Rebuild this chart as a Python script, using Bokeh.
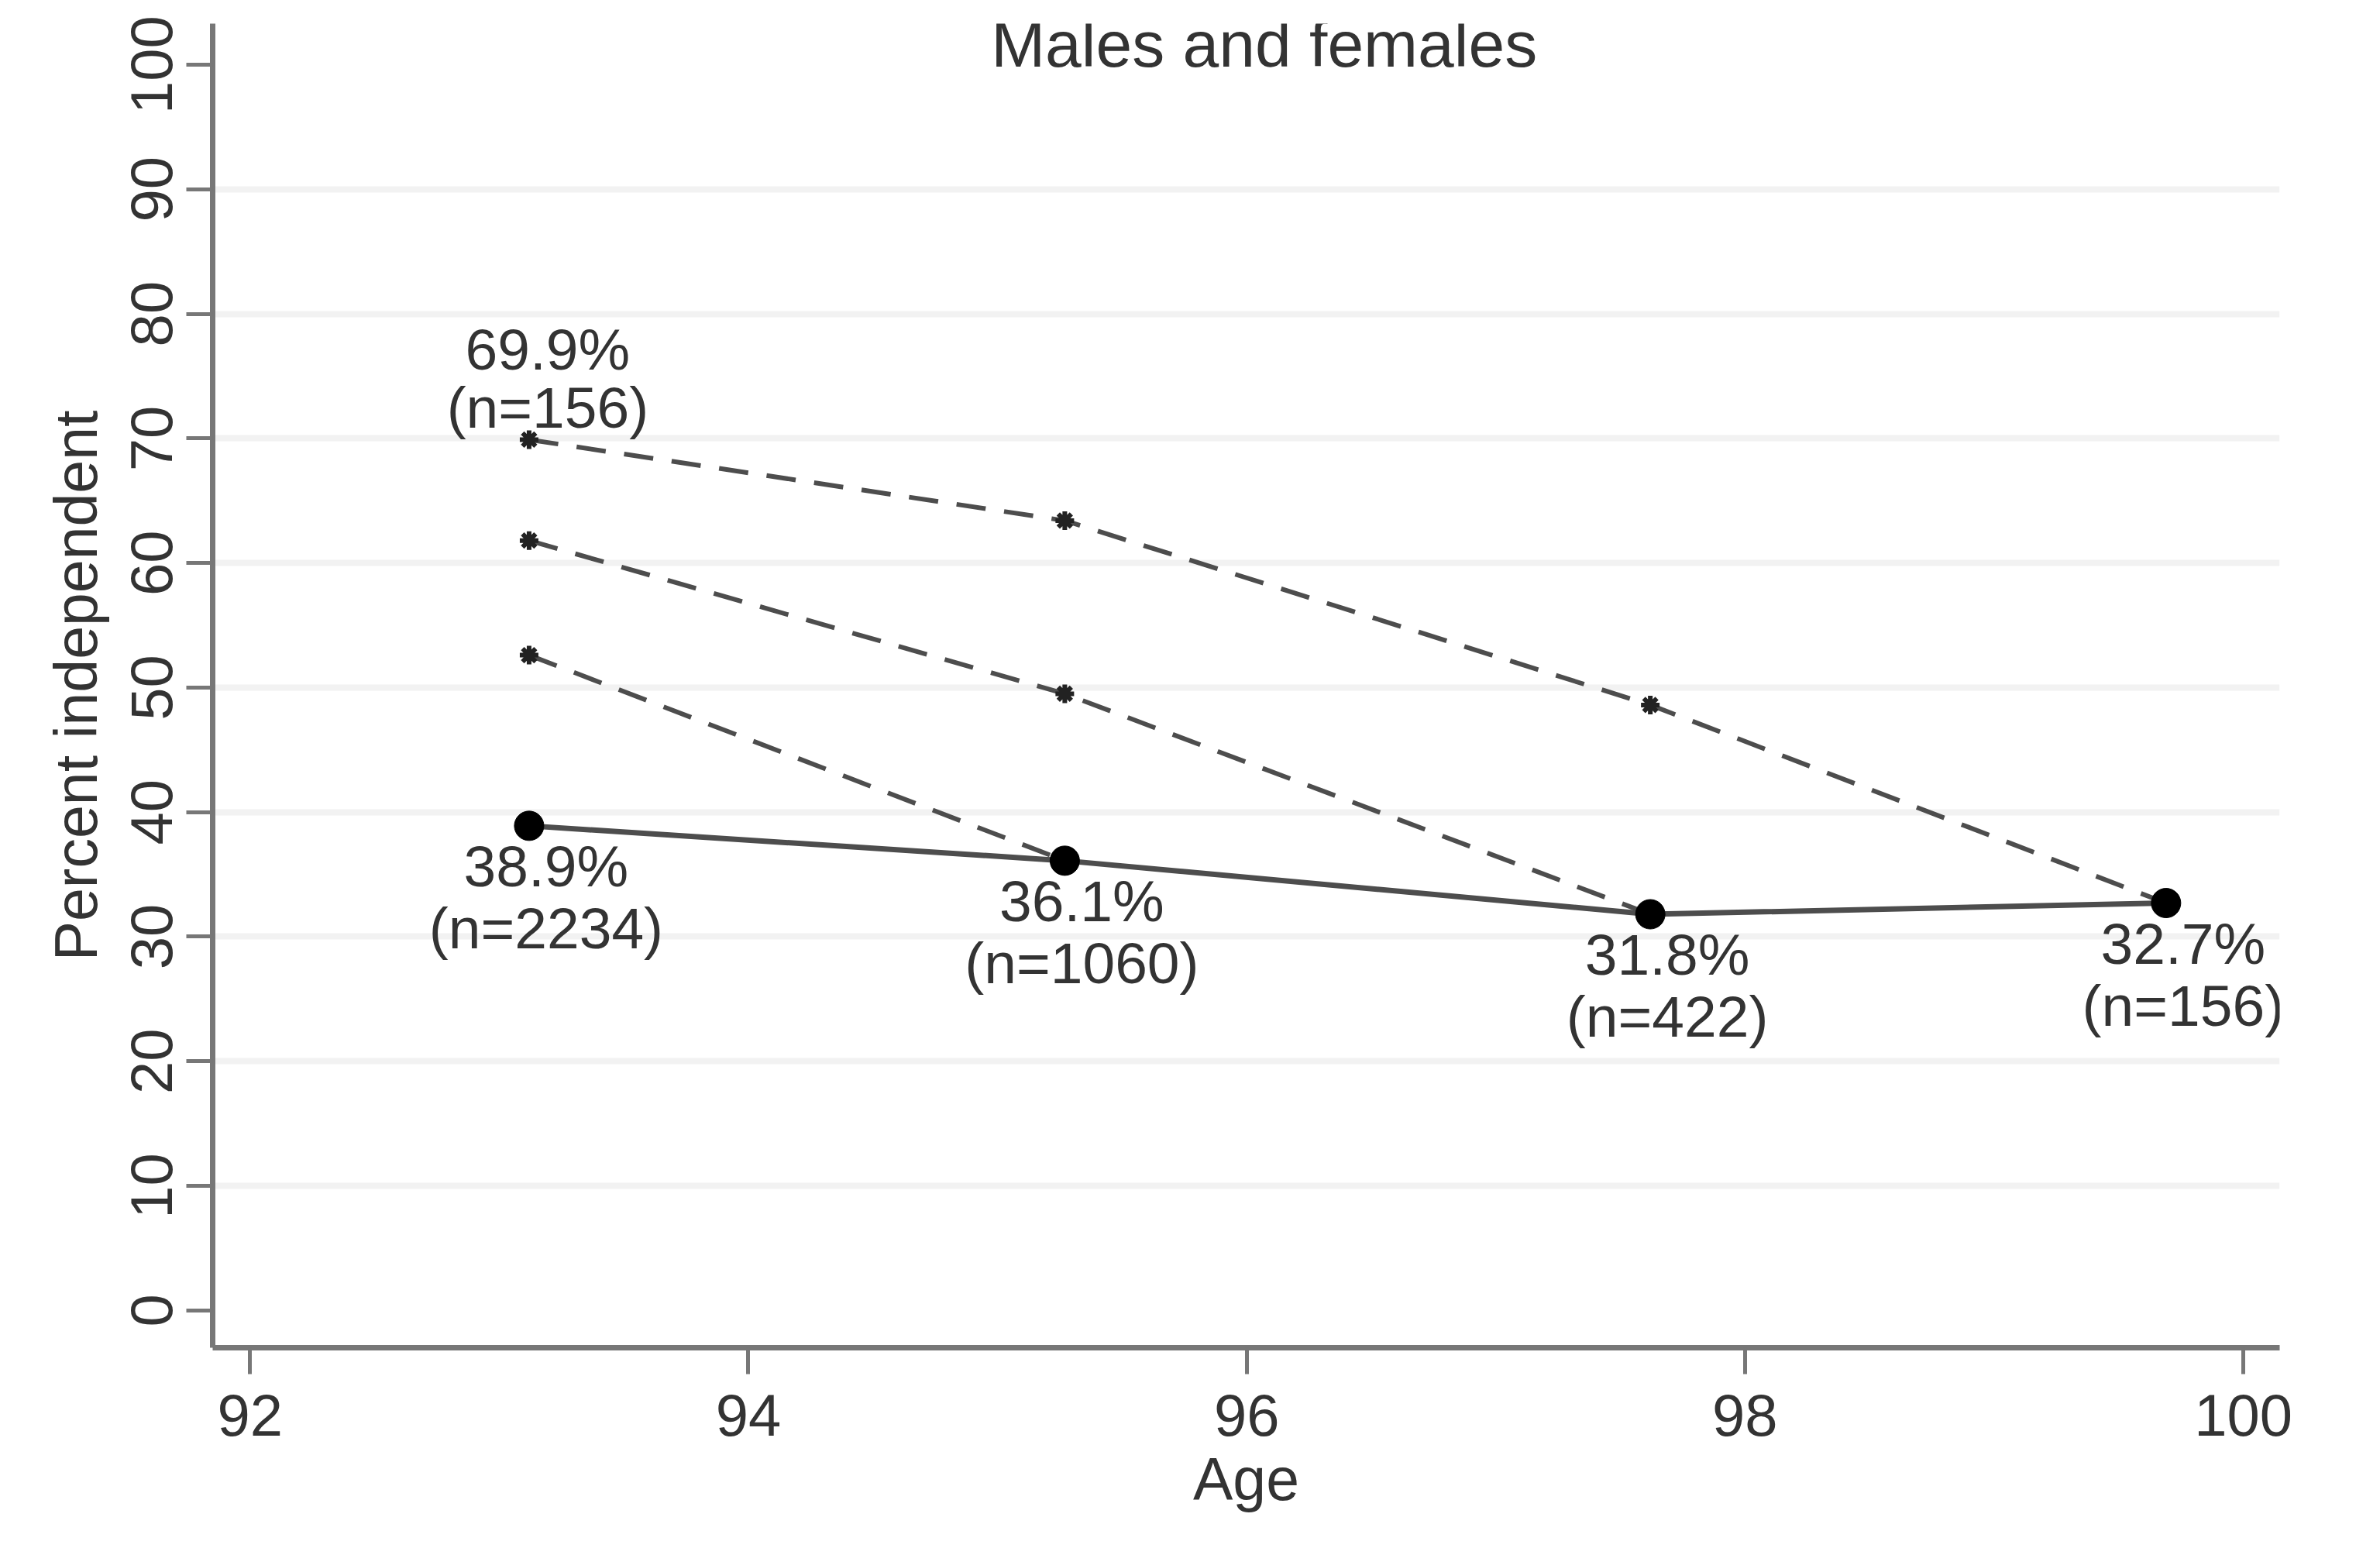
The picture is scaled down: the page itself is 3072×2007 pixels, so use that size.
from bokeh.plotting import figure
from bokeh.models import FixedTicker, Range1d, Label, ColumnDataSource
from bokeh.core.properties import value
from bokeh.embed import file_html
from bokeh.resources import INLINE

# ---- data ----
ages = [93.12, 95.27, 97.62, 99.69]
overall_pct = [38.9, 36.1, 31.8, 32.7]
overall_n = [2234, 1060, 422, 156]

cohort_a_ages = [93.12, 95.27, 97.62, 99.69]
cohort_a_pct = [69.9, 63.4, 48.6, 32.7]
cohort_b_ages = [93.12, 95.27, 97.62]
cohort_b_pct = [61.8, 49.5, 31.8]
cohort_c_ages = [93.12, 95.27]
cohort_c_pct = [52.6, 36.1]

top_label_pct = [69.9]
top_label_n = [156]

x_ticks = [92, 94, 96, 98, 100]
y_ticks = [0, 10, 20, 30, 40, 50, 60, 70, 80, 90, 100]
grid_ticks = [10, 20, 30, 40, 50, 60, 70, 80, 90]

title_text = "Males and females"
x_label = "Age"
y_label = "Percent independent"

FONT = "Liberation Sans"
TXT = "#333333"
AX = "#777777"
LINE = "#4d4d4d"

p = figure(width=3056, height=1991, output_backend="svg", toolbar_location=None,
           x_range=Range1d(91.85, 100.146), y_range=Range1d(-3.0, 103.3))
p.min_border_left = 274
p.min_border_right = 114
p.min_border_top = 30
p.min_border_bottom = 252
p.outline_line_color = None
p.background_fill_color = "white"
p.border_fill_color = "white"

# axes
for ax in (p.xaxis[0], p.yaxis[0]):
    ax.axis_line_color = AX
    ax.axis_line_width = 7
    ax.major_tick_line_color = AX
    ax.major_tick_line_width = 5
    ax.major_tick_out = 34
    ax.major_tick_in = 0
    ax.minor_tick_line_color = None
    ax.major_label_text_font = FONT
    ax.major_label_text_font_size = "76px"
    ax.major_label_text_color = TXT
    ax.axis_label_text_font = FONT
    ax.axis_label_text_font_size = "77px"
    ax.axis_label_text_font_style = "normal"
    ax.axis_label_text_color = TXT

p.xaxis.ticker = FixedTicker(ticks=x_ticks)
p.yaxis.ticker = FixedTicker(ticks=y_ticks)
p.yaxis.major_label_orientation = "vertical"
p.xaxis.axis_label = x_label
p.yaxis.axis_label = y_label
p.xaxis.major_label_standoff = 26
p.xaxis.axis_label_standoff = 10
p.yaxis.major_label_standoff = 18
p.yaxis.axis_label_standoff = 26

p.xgrid.grid_line_color = None
p.ygrid.ticker = FixedTicker(ticks=grid_ticks)
p.ygrid.grid_line_color = "#f2f2f2"
p.ygrid.grid_line_width = 8

# dashed cohort lines
for xs, ys in ((cohort_a_ages, cohort_a_pct), (cohort_b_ages, cohort_b_pct), (cohort_c_ages, cohort_c_pct)):
    p.line(xs, ys, line_color=LINE, line_width=6, line_dash="38 24")
    p.scatter(xs, ys, marker="asterisk", size=24, line_color="#222222", line_width=6)

# solid overall line
p.line(ages, overall_pct, line_color=LINE, line_width=7)
p.scatter(ages, overall_pct, marker="circle", size=38, fill_color="black", line_color="black")

# labels below overall points
src = ColumnDataSource(dict(
    x=ages, y=overall_pct,
    pct=[f"{v:.1f}%" for v in overall_pct],
    n=[f"(n={n})" for n in overall_n],
))
p.text(x="x", y="y", text="pct", source=src, x_offset=22, y_offset=52,
       text_align="center", text_baseline="middle", text_font=value(FONT),
       text_font_size="75px", text_color=TXT)
p.text(x="x", y="y", text="n", source=src, x_offset=22, y_offset=132,
       text_align="center", text_baseline="middle", text_font=value(FONT),
       text_font_size="75px", text_color=TXT)

# label above top cohort start
src2 = ColumnDataSource(dict(
    x=cohort_a_ages[:1], y=cohort_a_pct[:1],
    pct=[f"{v:.1f}%" for v in top_label_pct],
    n=[f"(n={n})" for n in top_label_n],
))
p.text(x="x", y="y", text="pct", source=src2, x_offset=24, y_offset=-116,
       text_align="center", text_baseline="middle", text_font=value(FONT),
       text_font_size="75px", text_color=TXT)
p.text(x="x", y="y", text="n", source=src2, x_offset=24, y_offset=-41,
       text_align="center", text_baseline="middle", text_font=value(FONT),
       text_font_size="75px", text_color=TXT)

# title at the top edge
p.add_layout(Label(x=96.07, y=104.6, text=title_text, text_align="center",
                   text_baseline="top", text_font=FONT,
                   text_font_size="84px", text_color=TXT))

open("out.html", "w").write(file_html(p, INLINE))
